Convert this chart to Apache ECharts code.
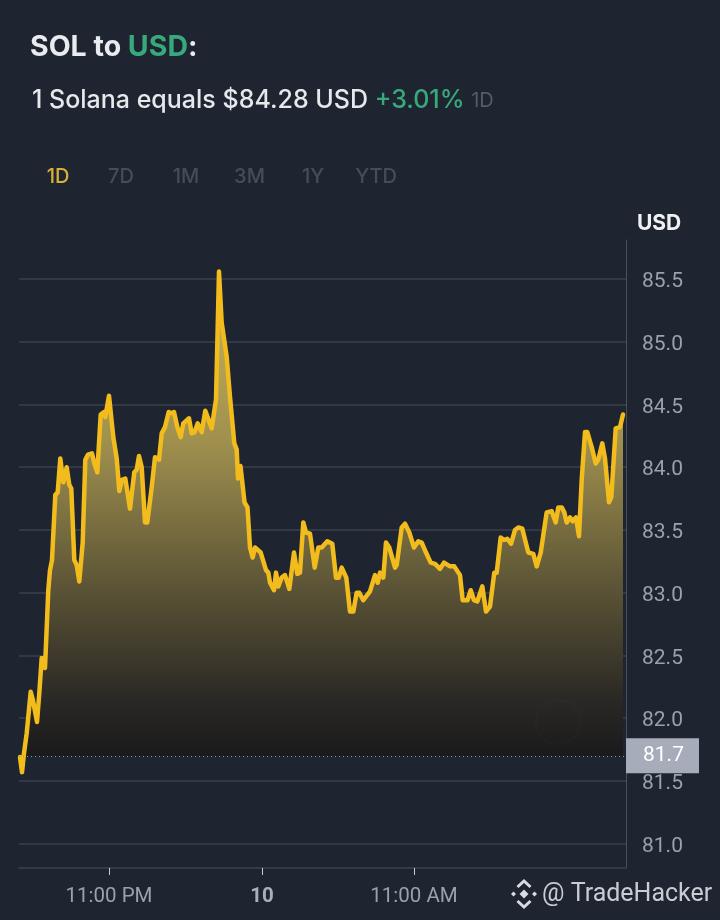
<!DOCTYPE html>
<html>
<head>
<meta charset="utf-8">
<style>html,body{margin:0;padding:0;background:#1e2530}#c{width:720px;height:920px}</style>
<script src="https://cdn.jsdelivr.net/npm/echarts@6/dist/echarts.min.js"></script>
</head>
<body>
<div id="c"></div>
<script>
const times = [1,3,5,7.7,11.7,14,18,20.3,22.7,24.3,26,29.3,31,33,36.3,38.7,41.3,44.3,47.7,50.3,52.3,55.3,57.7,60.3,63.7,66.3,69,71,73,75.7,78.3,79.3,81.7,85,86.3,90,94.3,97.7,100.3,103,106.3,111,115.3,117.7,120,122.7,126,128.3,132.7,136,140,142.7,146,149.7,152.7,155,158.3,161.7,164.3,170,172.7,175.7,178.7,182.7,186.3,188.3,192.7,194.3,197,200,202.7,207.7,211,215.3,217.7,219,221.5,225.5,228.5,231,233.7,236,241.7,247,249.3,251,255,257,259.3,262.7,266,270.3,275,278.3,281,284.3,287,291,295.7,299.3,302.7,308.3,313.3,317,319.7,322.7,327.3,331,334.3,337.7,340.3,344.3,351,356,358.7,361,364.3,367,370.3,376,377.7,382.7,386,390.3,395,399.3,402.7,407,411.7,416,421,425,431,435.3,441,443.7,448.5,451.7,455,458.3,463.3,465.3,467,471,475.3,477.7,481.7,485,488.3,492,496,499.3,503.3,509.3,514.3,517.7,521.7,527.7,532.7,536.7,539.3,542.7,545.3,547.7,551,553.7,557,560,562.7,566,568.3,572.7,576.7,579.3,583.3,586,590,592.3,596.7,601,604];
const prices = [81.69,81.57,81.72,81.88,82.21,82.14,81.97,82.20,82.48,82.48,82.40,83.02,83.18,83.26,83.78,83.80,84.07,83.88,84.00,83.86,83.83,83.26,83.22,83.09,83.40,84.06,84.10,84.09,84.11,84.02,83.96,83.96,84.42,84.44,84.40,84.57,84.24,84.07,83.81,83.90,83.91,83.67,83.96,83.98,84.09,84.00,83.56,83.56,83.84,84.08,84.06,84.27,84.32,84.44,84.43,84.44,84.32,84.24,84.35,84.39,84.27,84.28,84.35,84.28,84.45,84.45,84.31,84.31,84.54,85.56,85.15,84.88,84.56,84.19,84.14,83.91,84.01,83.72,83.68,83.36,83.28,83.36,83.32,83.18,83.16,83.08,83.02,83.16,83.05,83.12,83.14,83.03,83.32,83.15,83.16,83.56,83.48,83.47,83.20,83.36,83.36,83.41,83.39,83.12,83.12,83.20,83.12,82.85,82.85,83.00,83.00,82.94,83.01,83.14,83.08,83.16,83.12,83.40,83.36,83.20,83.22,83.52,83.55,83.48,83.36,83.41,83.40,83.32,83.24,83.23,83.19,83.24,83.21,83.21,83.14,82.94,82.94,83.02,82.94,82.93,83.05,83.04,82.85,82.89,83.16,83.16,83.44,83.42,83.43,83.39,83.50,83.52,83.51,83.32,83.31,83.21,83.32,83.64,83.65,83.56,83.68,83.68,83.64,83.56,83.60,83.57,83.60,83.45,83.90,84.28,84.28,84.16,84.03,84.06,84.19,84.07,83.72,83.76,84.31,84.32,84.42];
const yTicks = [81.0,81.5,82.0,82.5,83.0,83.5,84.0,84.5,85.0,85.5];
const xTicks = [90,243,395];
const xLabels = ['11:00 PM','10','11:00 AM'];
const referencePrice = 81.7;
const tabs = ['1D','7D','1M','3M','1Y','YTD'];
const tabCenters = [58,121,186,249.5,313,376];

const FONT = 'Roboto, sans-serif';
const HEAD = 'Inter, sans-serif';
const chart = echarts.init(document.getElementById('c'), null, {renderer:'canvas'});

const tabGraphics = tabs.map((t,i)=>({type:'text',x:tabCenters[i],y:177,z:10,
  style:{text:t,align:'center',verticalAlign:'middle',font:'500 20px '+HEAD,fill:i===0?'#d8b03a':'#474d58'}}));

const data = times.map((t,i)=>[t,prices[i]]);
chart.setOption({
  animation:false,
  backgroundColor:'#1e2530',
  grid:{left:19,top:240,width:607,height:628,containLabel:false},
  title:[
    {left:30,top:33,padding:0,text:'{a|SOL to }{b|USD}{a|:}',textStyle:{rich:{
      a:{fontFamily:HEAD,fontWeight:700,fontSize:28.5,color:'#e9ebef'},
      b:{fontFamily:HEAD,fontWeight:700,fontSize:28.5,color:'#37a97d'}}}},
    {left:32,top:88,padding:0,text:'{a|1 Solana equals $84.28 USD }{b|+3.01% }{c|1D}',textStyle:{rich:{
      a:{fontFamily:HEAD,fontWeight:500,fontSize:25,color:'#e6e8ec'},
      b:{fontFamily:HEAD,fontWeight:500,fontSize:25,color:'#37a97d'},
      c:{fontFamily:HEAD,fontWeight:400,fontSize:20,color:'#565c67'}}}},
    {left:637,top:213,padding:0,text:'USD',textStyle:{fontFamily:HEAD,fontWeight:700,fontSize:21,color:'#f0f1f3'}}
  ],
  xAxis:{type:'value',min:0,max:607,position:'bottom',
    axisLine:{show:true,onZero:false,lineStyle:{color:'#3d434e',width:1.5}},
    axisTick:{show:true,length:7,customValues:xTicks,lineStyle:{color:'#c8ccd2',width:1}},
    axisLabel:{show:true,customValues:xTicks,margin:18,color:'#9aa1ab',fontFamily:FONT,fontSize:20.5,
      formatter:v=>{const s=xLabels[xTicks.indexOf(v)];return s==='10'?'{b|10}':s;},
      rich:{b:{fontFamily:FONT,fontWeight:700,fontSize:20.5,color:'#a9afb8'}}},
    splitLine:{show:false}},
  yAxis:{type:'value',position:'right',min:80.806,max:85.811,
    axisLine:{show:true,onZero:false,lineStyle:{color:'#4a505b',width:1}},
    axisTick:{show:false,customValues:yTicks},
    axisLabel:{show:true,customValues:yTicks,margin:16,
      formatter:v=>'{v|'+v.toFixed(1)+'}',
      rich:{v:{color:'#9aa1ab',fontFamily:FONT,fontSize:21,padding:[6,0,0,0]}}},
    splitLine:{show:true,lineStyle:{color:'#3a404b',width:1.5}}},
  series:[{type:'line',data:data,showSymbol:false,smooth:false,z:3,
    lineStyle:{color:'#f2bd1c',width:4.5,join:'round',cap:'round'},
    areaStyle:{origin:referencePrice,opacity:1,
      color:new echarts.graphic.LinearGradient(0,272,0,756,[
        {offset:0,color:'#c9b45c'},
        {offset:0.35,color:'#a0904e'},
        {offset:0.65,color:'#5c5436'},
        {offset:0.88,color:'#2b2925'},
        {offset:1,color:'#1a1a1c'}],true)},
    markLine:{silent:true,symbol:'none',animation:false,z:6,
      lineStyle:{color:'#8d929b',type:[1,3],width:1},
      label:{show:true,position:'end',distance:0,formatter:'81.7',color:'#ffffff',fontFamily:FONT,fontSize:21,
        backgroundColor:'#a6acb9',align:'left',padding:[0,0,0,17],width:56,height:35,lineHeight:37,verticalAlign:'middle'},
      data:[{yAxis:referencePrice}]}
  }],
  graphic:[
    ...tabGraphics,
    {type:'circle',shape:{cx:558,cy:722,r:22},z:4,style:{fill:'none',stroke:'rgba(255,255,255,0.012)',lineWidth:3}},
    {type:'group',x:524,y:894,z:10,children:[
      {type:'polygon',shape:{points:[[0,-4.5],[4.5,0],[0,4.5],[-4.5,0]]},style:{fill:'#d8dbe0'}},
      {type:'polygon',shape:{points:[[-10.5,-2.5],[-8,0],[-10.5,2.5],[-13,0]]},style:{fill:'#d8dbe0'}},
      {type:'polygon',shape:{points:[[10.5,-2.5],[13,0],[10.5,2.5],[8,0]]},style:{fill:'#d8dbe0'}},
      {type:'polyline',shape:{points:[[-6.5,-7],[0,-13],[6.5,-7]]},style:{fill:'none',stroke:'#d8dbe0',lineWidth:3}},
      {type:'polyline',shape:{points:[[-6.5,7],[0,13],[6.5,7]]},style:{fill:'none',stroke:'#d8dbe0',lineWidth:3}}
    ]},
    {type:'text',left:542,top:882,z:10,style:{text:'@ TradeHacker',font:'400 25px '+FONT,fill:'#c9cdd3'}}
  ]
});
</script>
</body>
</html>
